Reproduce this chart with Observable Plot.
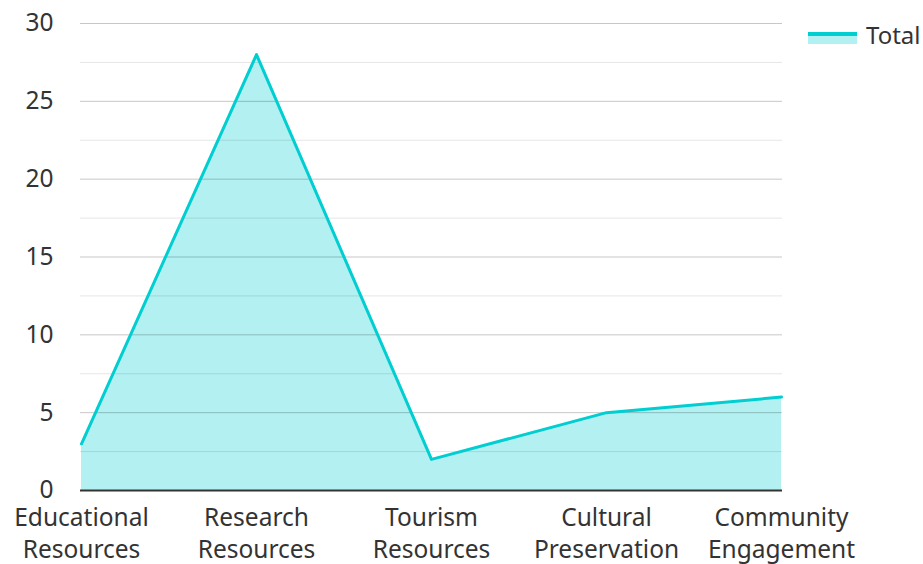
<!DOCTYPE html>
<html><head><meta charset="utf-8">
<script src="https://cdn.jsdelivr.net/npm/d3@7"></script>
<script src="https://cdn.jsdelivr.net/npm/@observablehq/plot@0.6"></script>
<style>
html,body{margin:0;padding:0;background:#fff;}
#wrap{position:relative;width:923px;height:564px;overflow:hidden;font-family:"Noto Sans",sans-serif;}
#legend{position:absolute;left:808px;top:18px;display:flex;align-items:center;font-size:24px;color:#333;}
#legend .sw{position:relative;width:49px;height:16px;margin-right:9px;}
#legend .sw .a{position:absolute;left:0;top:7px;width:49px;height:10px;background:rgba(0,206,209,0.3);}
#legend .sw .l{position:absolute;left:0;top:5px;width:49px;height:4px;background:#00ced1;}
</style></head>
<body><div id="wrap"><div id="chart"></div>
<div id="legend"><div class="sw"><div class="a"></div><div class="l"></div></div><span>Total</span></div></div>
<script>
const categories = ["Educational Resources","Research Resources","Tourism Resources","Cultural Preservation","Community Engagement"];
const totals = [3, 28, 2, 5, 6];
const yTicks = [0,5,10,15,20,25,30];
const yMinor = [2.5,7.5,12.5,17.5,22.5,27.5];
const data = categories.map((c,i)=>({category:c, total:totals[i]}));
const color = "#00ced1";
const plot = Plot.plot({
  width: 923, height: 564,
  marginLeft: 80, marginRight: 141, marginTop: 23, marginBottom: 74,
  style: {fontFamily: '"Noto Sans", sans-serif', fontSize: "24.5px", color: "#333", background: "#fff"},
  x: {type: "point", domain: categories, padding: 0, label: null},
  y: {domain: [0,30], label: null},
  marks: [
    Plot.areaY(data, {x: "category", y: "total", fill: color, fillOpacity: 0.3}),
    Plot.ruleY(yMinor, {stroke: "#000", strokeOpacity: 0.1, strokeWidth: 1}),
    Plot.ruleY(yTicks.filter(d=>d>0), {stroke: "#000", strokeOpacity: 0.22, strokeWidth: 1}),
    Plot.lineY(data, {x: "category", y: "total", stroke: color, strokeWidth: 3}),
    Plot.ruleY([0], {stroke: "#333", strokeWidth: 2}),
    Plot.axisY({ticks: yTicks, tickSize: 0, tickPadding: 27, label: null, fill: "#333"}),
    Plot.axisX({tickSize: 0, tickPadding: 13, label: null, lineHeight: 1.3, fill: "#333",
      tickFormat: d => d.replace(" ", "\n")})
  ]
});
document.getElementById("chart").appendChild(plot);
</script></body></html>
